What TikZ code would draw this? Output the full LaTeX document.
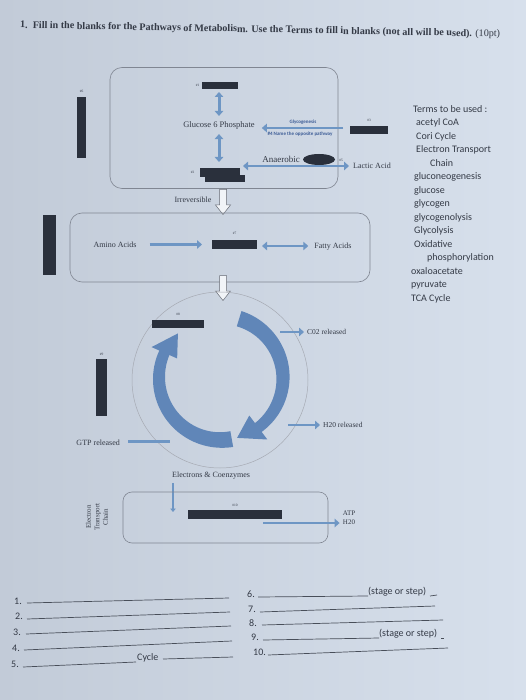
\documentclass[tikz,border=0pt]{standalone}
\usepackage{fontspec}
\setmainfont{Liberation Serif}
\newfontfamily\calfont{Carlito}
\usetikzlibrary{arrows.meta,shapes.geometric}
\definecolor{paperL}{RGB}{194,203,216}
\definecolor{paperR}{RGB}{215,224,236}
\definecolor{ink}{RGB}{52,58,70}
\definecolor{barc}{RGB}{42,48,60}
\definecolor{arrowc}{RGB}{110,150,196}
\definecolor{cyclec}{RGB}{96,134,184}
\definecolor{boxc}{RGB}{128,134,146}
\definecolor{tinyblue}{RGB}{60,92,150}
\tikzset{
  pics/hollowdown/.style={code={
    \draw[boxc!80!black,fill=white!65!paperR,line width=0.5pt]
      (-3.5,-12.5) -- (3.5,-12.5) -- (3.5,3) -- (7.5,3) -- (0,12.5) -- (-7.5,3) -- (-3.5,3) -- cycle;}}
}
\begin{document}
\begin{tikzpicture}[x=1pt,y=-1pt,
  bar/.style={fill=barc, inner sep=0pt, outer sep=0pt, draw=none},
  hashlbl/.style={font=\fontsize{3.5}{4}\selectfont, text=ink, inner sep=0.5pt},
  lbl/.style={font=\fontsize{8}{9}\selectfont, text=ink, inner sep=0pt},
  roundbox/.style={draw=boxc, line width=0.6pt, rounded corners=12pt, inner sep=0pt},
  barrow/.style={draw=arrowc, line width=3pt, -{Triangle[length=5pt,width=8.5pt]}},
  dbl/.style={draw=arrowc, line width=3pt, {Triangle[length=5pt,width=8.5pt]}-{Triangle[length=5pt,width=8.5pt]}},
  ansline/.style={draw=ink!90, line width=0.7pt},
  ans/.style={font=\calfont\fontsize{10}{12}\selectfont, text=ink, inner sep=0pt, anchor=base west},
  tinytxt/.style={font=\calfont\bfseries\fontsize{5}{6}\selectfont, text=tinyblue, inner sep=0pt}
]
\shade[left color=paperL,right color=paperR] (0,0) rectangle (526,700);
\useasboundingbox (0,0) rectangle (526,700);

% title
\node[anchor=base west, inner sep=0pt, font=\bfseries\fontsize{10.1}{11}\selectfont, text=ink, rotate=-1.07] (title) at (20,28)
  {1.\ \ Fill in the blanks for the Pathways of Metabolism. Use the Terms to fill in blanks (not all will be used). {\mdseries (10pt)}};

% ---------- top box ----------
\node[roundbox, minimum width=228pt, minimum height=121pt] (topbox) at (224,128) {};
\node[bar, minimum width=36pt, minimum height=7pt] (b1) at (220,85.5) {};
\node[hashlbl, anchor=east] (h1) at ([xshift=-2pt]b1.west) {\#1};
\node[lbl, font=\fontsize{8.5}{9}\selectfont] (g6p) at (219,125) {Glucose 6 Phosphate};
\node[bar, minimum width=40pt, minimum height=9pt] (b2a) at (220,172.5) {};
\node[bar, minimum width=40pt, minimum height=7pt] (b2b) at (224.5,178.5) {};
\node[hashlbl, anchor=east] (h2) at ([xshift=-5pt]b2a.west) {\#2};
\draw[dbl, shorten <=3pt, shorten >=5pt] (g6p.north |- b1.south) -- (g6p.north);
\draw[dbl, shorten <=5pt, shorten >=6pt] (g6p.south) -- (g6p.south |- b2a.north);

\node[bar, minimum width=38pt, minimum height=8pt] (b3) at (369,130) {};
\node[hashlbl, anchor=south] (h3) at ([yshift=4pt]b3.north) {\#3};
\node[tinytxt] (glyco) at (303,122) {Glycogenesis};
\node[tinytxt] (opp) at (300,134.5) {\#4 Name the opposite pathway};
\draw[barrow, line width=2.5pt, shorten <=7pt, shorten >=7pt] ([yshift=2pt]b3.west) -- ([yshift=2pt]b3.west -| g6p.east);

\node[lbl, font=\fontsize{9}{10}\selectfont] (anaer) at (281,159) {Anaerobic};
\node[ellipse, fill=barc, minimum width=32pt, minimum height=11pt, inner sep=0pt] (ell) at (319,159.5) {};
\node[hashlbl] (h5) at (341,160) {\#5};
\node[lbl] (lactic) at (372,166) {Lactic Acid};
\draw[dbl, line width=2.5pt, shorten <=3pt, shorten >=4pt] (b2a.east |- lactic.west) -- (lactic.west);

\node[bar, minimum width=9pt, minimum height=61pt] (b6) at (81.5,127.5) {};
\node[hashlbl, anchor=south] (h6) at ([yshift=4pt]b6.north) {\#6};

% ---------- terms ----------
\node[anchor=north west, align=left, inner sep=0pt, text=ink, font=\calfont\fontsize{10}{13.5}\selectfont] (terms) at (411,105) {%
\hspace*{2pt}Terms to be used :\\
\hspace*{5pt}acetyl CoA\\
\hspace*{5pt}Cori Cycle\\
\hspace*{5pt}Electron Transport\\
\hspace*{19pt}Chain\\
\hspace*{3pt}gluconeogenesis\\
\hspace*{3pt}glucose\\
\hspace*{3pt}glycogen\\
\hspace*{3pt}glycogenolysis\\
\hspace*{3pt}Glycolysis\\
\hspace*{3pt}Oxidative\\
\hspace*{16pt}phosphorylation\\
oxaloacetate\\
pyruvate\\
TCA Cycle};

% ---------- middle ----------
\pic at (223,202) {hollowdown};
\node[lbl] (irr) at (193,200) {Irreversible};
\node[roundbox, minimum width=300pt, minimum height=69pt] (midbox) at (220,247.5) {};
\node[bar, minimum width=13pt, minimum height=60pt] (bL) at (49.5,245) {};
\node[lbl] (amino) at (115,244.5) {Amino Acids};
\node[bar, minimum width=45pt, minimum height=9pt] (b7) at (234.5,244.5) {};
\node[hashlbl, anchor=south] (h7) at ([yshift=5pt]b7.north) {\#7};
\node[lbl] (fatty) at (333,246.5) {Fatty Acids};
\draw[barrow, shorten <=13pt, shorten >=10pt] (amino.east) -- (b7.west |- amino.east);
\draw[dbl, line width=2.5pt, shorten <=5pt, shorten >=6pt] ([yshift=-1.5pt]b7.east) -- ([yshift=-1.5pt]b7.east -| fatty.west);
\pic at (223,288) {hollowdown};

% ---------- cycle ----------
\node[circle, draw=boxc!70, line width=0.5pt, minimum size=176pt, inner sep=0pt] (cyc) at (220,380) {};
% right arc
\fill[cyclec] plot[domain=-73:54, samples=50, variable=\t]
   ({221+(62+8-2.5*(\t+73)/127)*cos(\t)},{378+(62+8-2.5*(\t+73)/127)*sin(\t)})
   -- plot[domain=54:-73, samples=50, variable=\t]
   ({221+(62-8+2.5*(\t+73)/127)*cos(\t)},{378+(62-8+2.5*(\t+73)/127)*sin(\t)}) -- cycle;
\fill[cyclec] ({221+77*cos(53)},{378+77*sin(53)}) -- ({221+62*cos(75)},{378+62*sin(75)}) -- ({221+47*cos(53)},{378+47*sin(53)}) -- cycle;
% left arc
\fill[cyclec] plot[domain=80:205, samples=50, variable=\t]
   ({221+(62+8-2.5*(\t-80)/125)*cos(\t)},{378+(62+8-2.5*(\t-80)/125)*sin(\t)})
   -- plot[domain=205:80, samples=50, variable=\t]
   ({221+(62-8+2.5*(\t-80)/125)*cos(\t)},{378+(62-8+2.5*(\t-80)/125)*sin(\t)}) -- cycle;
\fill[cyclec] ({221+76*cos(204)},{378+76*sin(204)}) -- ({221+62*cos(226)},{378+62*sin(226)}) -- ({221+48*cos(204)},{378+48*sin(204)}) -- cycle;

\node[bar, minimum width=52pt, minimum height=8pt] (b8) at (178,324) {};
\node[hashlbl, anchor=south] (h8) at ([yshift=4pt]b8.north) {\#8};
\node[bar, minimum width=11pt, minimum height=57pt] (b9) at (101.5,387.5) {};
\node[hashlbl, anchor=south] (h9) at ([yshift=3pt]b9.north) {\#9};

\node[lbl, font=\fontsize{7.5}{8}\selectfont, anchor=west] (co2) at (307,332) {C02 released};
\coordinate (co2s) at (280,332);
\draw[barrow, line width=2.5pt, shorten >=3pt] (co2s) -- (co2.west);
\node[lbl, font=\fontsize{7.5}{8}\selectfont, anchor=west] (h2o) at (323,425) {H20 released};
\coordinate (h2os) at (288,425);
\draw[barrow, line width=2.5pt, shorten >=3pt] (h2os) -- (h2o.west);
\node[lbl, anchor=east] (gtp) at (120,443) {GTP released};
\coordinate (gtpe) at (170,441);
\draw[draw=arrowc, line width=3pt, shorten <=8pt] (gtp.east |- gtpe) -- (gtpe);

% ---------- bottom ----------
\node[lbl, anchor=west] (ec) at (172,476) {Electrons \& Coenzymes};
\coordinate (ecd) at (173,512);
\draw[draw=arrowc, line width=2pt, -{Triangle[length=3.5pt,width=5.5pt]}, shorten <=3pt] (ec.south west -| ecd) -- (ecd);
\node[roundbox, rounded corners=9pt, minimum width=205pt, minimum height=51pt] (botbox) at (225.5,517.5) {};
\node[bar, minimum width=94pt, minimum height=9pt] (b10) at (235,514.5) {};
\node[hashlbl, anchor=south] (h10) at ([yshift=3pt]b10.north) {\#10};
\node[lbl, align=center, font=\fontsize{7}{9}\selectfont] (atp) at (349,518) {ATP\\H20};
\coordinate (etcs) at (263,523);
\draw[barrow, line width=2.5pt, shorten >=3pt] (etcs) -- (atp.west |- etcs);
\node[lbl, rotate=90, align=center, font=\fontsize{7}{8.5}\selectfont] (etc) at (97,517) {Electron\\Transport\\Chain};

% ---------- answers ----------
\node[ans] (n1) at (14,604) {1.};
\draw[ansline] (27,603) -- (229,598);
\node[ans] (n2) at (15,619) {2.};
\draw[ansline] (27,619) -- (230,612);
\node[ans] (n3) at (13,635) {3.};
\draw[ansline] (26,634) -- (231,626);
\node[ans] (n4) at (12,651) {4.};
\draw[ansline] (24,650) -- (232,641);
\node[ans] (n5) at (11,667) {5.};
\draw[ansline] (23,667) -- (136,662);
\node[ans] (cyc5) at (137,660) {Cycle};
\draw[ansline] (163,659) -- (233,657);

\node[ans] (n6) at (247,597) {6.};
\draw[ansline] (258,597) -- (368,596);
\node[ans] (s6) at (368,594) {(stage or step)};
\draw[ansline] (430,596) -- (437,595);
\node[ans] (n7) at (248,612) {7.};
\draw[ansline] (260,612) -- (435,606);
\node[ans] (n8) at (249,626) {8.};
\draw[ansline] (262,625) -- (443,620);
\node[ans] (n9) at (251,640) {9.};
\draw[ansline] (263,640) -- (379,638);
\node[ans] (s9) at (379,636) {(stage or step)};
\draw[ansline] (441,638) -- (444,638);
\node[ans] (n10) at (253,655) {10.};
\draw[ansline] (268,655) -- (448,648);
\end{tikzpicture}
\end{document}
